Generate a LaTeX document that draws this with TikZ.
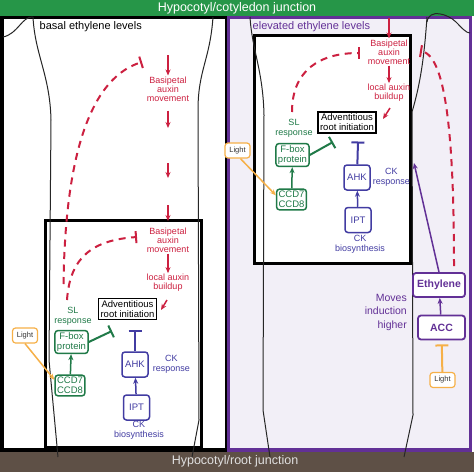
\documentclass[tikz,border=0pt]{standalone}
\usepackage{fontspec}
\setmainfont{Liberation Sans}
\usetikzlibrary{positioning,arrows.meta}

\definecolor{topgreen}{RGB}{38,150,72}
\definecolor{rootbrown}{RGB}{94,80,70}
\definecolor{auxred}{RGB}{204,32,64}
\definecolor{slgreen}{RGB}{32,122,72}
\definecolor{ckblue}{RGB}{66,60,162}
\definecolor{ethpurple}{RGB}{98,48,150}
\definecolor{lightorange}{RGB}{246,176,72}
\definecolor{lavender}{RGB}{242,239,247}

\begin{document}
\begin{tikzpicture}[x=1pt,y=-1pt,>={Stealth[length=6pt,width=5pt]},
	box/.style={draw,rounded corners=3pt,fill=white,line width=1.5pt,align=center,inner sep=2pt},
	gbox/.style={box,draw=slgreen,text=slgreen,font=\fontsize{9.5}{10}\selectfont},
	cbox/.style={box,draw=ckblue,text=ckblue,font=\fontsize{9.5}{10}\selectfont,minimum width=26pt,minimum height=25pt},
	ebox/.style={box,draw=ethpurple,text=ethpurple,line width=1.8pt,font=\fontsize{10.5}{11}\selectfont\bfseries,minimum height=24pt},
	lbox/.style={box,draw=lightorange,text=black!80,line width=1.2pt,font=\fontsize{7.5}{8}\selectfont,minimum height=15pt,minimum width=25pt,inner sep=1.5pt},
	abox/.style={draw,fill=white,line width=1.4pt,align=center,inner sep=2pt,font=\fontsize{9.5}{10}\selectfont},
	auxt/.style={text=auxred,align=center,inner sep=1pt,font=\fontsize{9}{9}\selectfont},
	slt/.style={text=slgreen,align=center,inner sep=1pt,font=\fontsize{9}{9.5}\selectfont},
	ckt/.style={text=ckblue,align=center,inner sep=1pt,font=\fontsize{9}{9.5}\selectfont},
	auxarr/.style={->,auxred,line width=1.5pt},
	auxinh/.style={auxred,line width=2pt,dash pattern=on 7pt off 5.5pt,-{Bar[width=12pt]}},
	inh/.style={line width=2pt,-{Bar[width=13pt]}},
	stem/.style={black!85,line width=1pt}]
	\useasboundingbox (0,0) rectangle (474,472);

	% panels and junction bars
	\fill[white] (0,0) rectangle (474,472);
	\fill[topgreen] (0,0) rectangle (474,16);
	\draw[line width=3.5pt] (2.2,17.5) rectangle (227,450);
	\draw[ethpurple,line width=3.5pt,fill=lavender] (228.5,17.5) rectangle (470.5,450);
	\fill[rootbrown] (0,451.5) rectangle (474,472);
	\draw[line width=3pt] (45,220) rectangle (201,447);
	\draw[line width=3pt,fill=white] (254,35) rectangle (410,263);

	% hypocotyl outlines
	\draw[stem] (3,37) .. controls (18,34) and (22,16) .. (33,17);
	\draw[stem] (33,17) .. controls (35,55) and (50,75) .. (51,120) -- (49,360) -- (58,457);
	\draw[stem] (213,17) .. controls (210,60) and (198,70) .. (198,110) -- (199,420) -- (192,457);
	\draw[stem] (250,17) .. controls (252,50) and (263,70) .. (264,115) -- (263,410) -- (270,457);
	\draw[stem] (427,17) .. controls (424,60) and (420,85) .. (412,112) -- (413,415) -- (404,457);
	\draw[stem] (427,22) .. controls (429,8) and (448,14) .. (456,22) .. controls (462,28) and (466,33) .. (470,33);

	\node[text=white,font=\fontsize{12.5}{13}\selectfont] (cotjn) at (237,8) {Hypocotyl/cotyledon junction};
	\node[text=white!88!black,font=\fontsize{12.5}{13}\selectfont] (rootjn) at (235,461.5) {Hypocotyl/root junction};
	\node[anchor=west,inner sep=0pt,font=\fontsize{11}{11}\selectfont] (basal) at (39.5,27) {basal ethylene levels};
	\node[anchor=west,inner sep=0pt,text=ethpurple,font=\fontsize{11}{11}\selectfont] (elev) at (252.5,27) {elevated ethylene levels};

	% basal levels
	\coordinate (la0) at (168,55);
	\node[auxt] (lbasi1) at (168,89) {Basipetal\\auxin\\movement};
	\coordinate (la1) at (168,128);
	\coordinate (la2) at (168,163);
	\coordinate (la3) at (168,178);
	\coordinate (la4) at (168,205);
	\coordinate (la5) at (168,221);
	\node[auxt] (lbasi2) at (168,240) {Basipetal\\auxin\\movement};
	\node[auxt] (lloc) at (168,283) {local auxin\\buildup};
	\coordinate (lls) at (167,300);
	\coordinate (lle) at (161,310);
	\node[abox] (ladv) at (127.5,309) {Adventitious\\root initiation};
	\node[slt] (lsl) at (73,316.5) {SL\\response};
	\node[gbox] (lfbox) at (71.5,342) {F-box\\protein};
	\node[gbox] (lccd) at (70,385.5) {CCD7\\CCD8};
	\node[lbox] (llight) at (25,335.5) {Light};
	\node[cbox] (lahk) at (135,364.5) {AHK};
	\node[ckt] (lck) [right=3pt of lahk] {CK\\response};
	\node[cbox] (lipt) at (136.5,407.5) {IPT};
	\node[ckt] (lcks) at (139,430.5) {CK\\biosynthesis};
	\coordinate (lfbT) at (112,331);
	\coordinate (lahkT) at (135,329.5);
	\coordinate (lsl1) at (63.5,284);
	\coordinate (lsl2) at (67,300);
	\coordinate (lbT1) at (142,62);
	\coordinate (lbT2) at (137,237);

	\path[auxarr]
		(la0) edge (lbasi1)
		(lbasi1) edge[shorten <=8pt] (la1)
		(la2) edge (la3)
		(la4) edge (la5)
		(lbasi2) edge (lloc)
		(lls) edge (lle);
	\draw[auxinh] (lsl1) .. controls (65,170) and (85,80) .. (lbT1);
	\draw[auxinh] (lsl2) .. controls (70,255) and (95,240) .. (lbT2);
	\path[->,slgreen,line width=1.5pt] (lccd) edge (lfbox);
	\draw[inh,slgreen] (lfbox.east) -- (lfbT);
	\path[->,ckblue,line width=1.5pt] (lipt) edge (lahk);
	\draw[inh,ckblue] (lahk) -- (lahkT);
	\draw[->,lightorange,line width=1.5pt] (llight.south) -- (lccd.160);

	% elevated levels
	\coordinate (ra0) at (389,18);
	\node[auxt] (rbasi) at (389,52) {Basipetal\\auxin\\movement};
	\node[auxt] (rloc) at (389,93) {local auxin\\buildup};
	\coordinate (rls) at (390,108);
	\coordinate (rle) at (383,119);
	\node[abox] (radv) at (347,122.5) {Adventitious\\root initiation};
	\node[slt] (rsl) at (294,128.5) {SL\\response};
	\node[gbox] (rfbox) at (292.5,155) {F-box\\protein};
	\node[gbox] (rccd) at (291.5,199.5) {CCD7\\CCD8};
	\node[lbox] (rlight) at (237.5,150.5) {Light};
	\node[cbox] (rahk) at (357,177.5) {AHK};
	\node[ckt] (rck) [right=1pt of rahk] {CK\\response};
	\node[cbox] (ript) at (358,220) {IPT};
	\node[ckt] (rcks) at (360,244.5) {CK\\biosynthesis};
	\node[ebox,minimum width=52pt] (reth) at (439,285) {Ethylene};
	\node[ebox,minimum width=47pt] (racc) at (441.5,327.5) {ACC};
	\node[lbox] (rlight2) at (442.5,380) {Light};
	\node[anchor=east,align=right,inner sep=0pt,text=ethpurple,font=\fontsize{10.5}{13.5}\selectfont] (rmove) at (407,312) {Moves\\induction\\higher};
	\coordinate (rfbT) at (333,142);
	\coordinate (rahkT) at (358,141.5);
	\coordinate (rsl1) at (292,112);
	\coordinate (rbT1) at (360,53);
	\coordinate (rds) at (454,266);
	\coordinate (rbT2) at (420,51);
	\coordinate (reup) at (414,163);

	\path[auxarr]
		(ra0) edge (rbasi)
		(rbasi) edge (rloc)
		(rls) edge (rle);
	\draw[auxinh] (rsl1) .. controls (292,70) and (320,53) .. (rbT1);
	\draw[auxinh] (rds) .. controls (454,130) and (445,55) .. (rbT2);
	\path[->,slgreen,line width=1.5pt] (rccd) edge (rfbox);
	\draw[inh,slgreen] (rfbox.east) -- (rfbT);
	\path[->,ckblue,line width=1.5pt] (ript) edge (rahk);
	\draw[inh,ckblue] (rahk) -- (rahkT);
	\draw[->,lightorange,line width=1.5pt] (rlight.290) -- (rccd.165);
	\path[->,ethpurple,line width=1.5pt]
		(racc) edge (reth)
		(reth.north) edge (reup);
	\draw[inh,lightorange,shorten >=4pt] (rlight2) -- (racc);
\end{tikzpicture}
\end{document}
